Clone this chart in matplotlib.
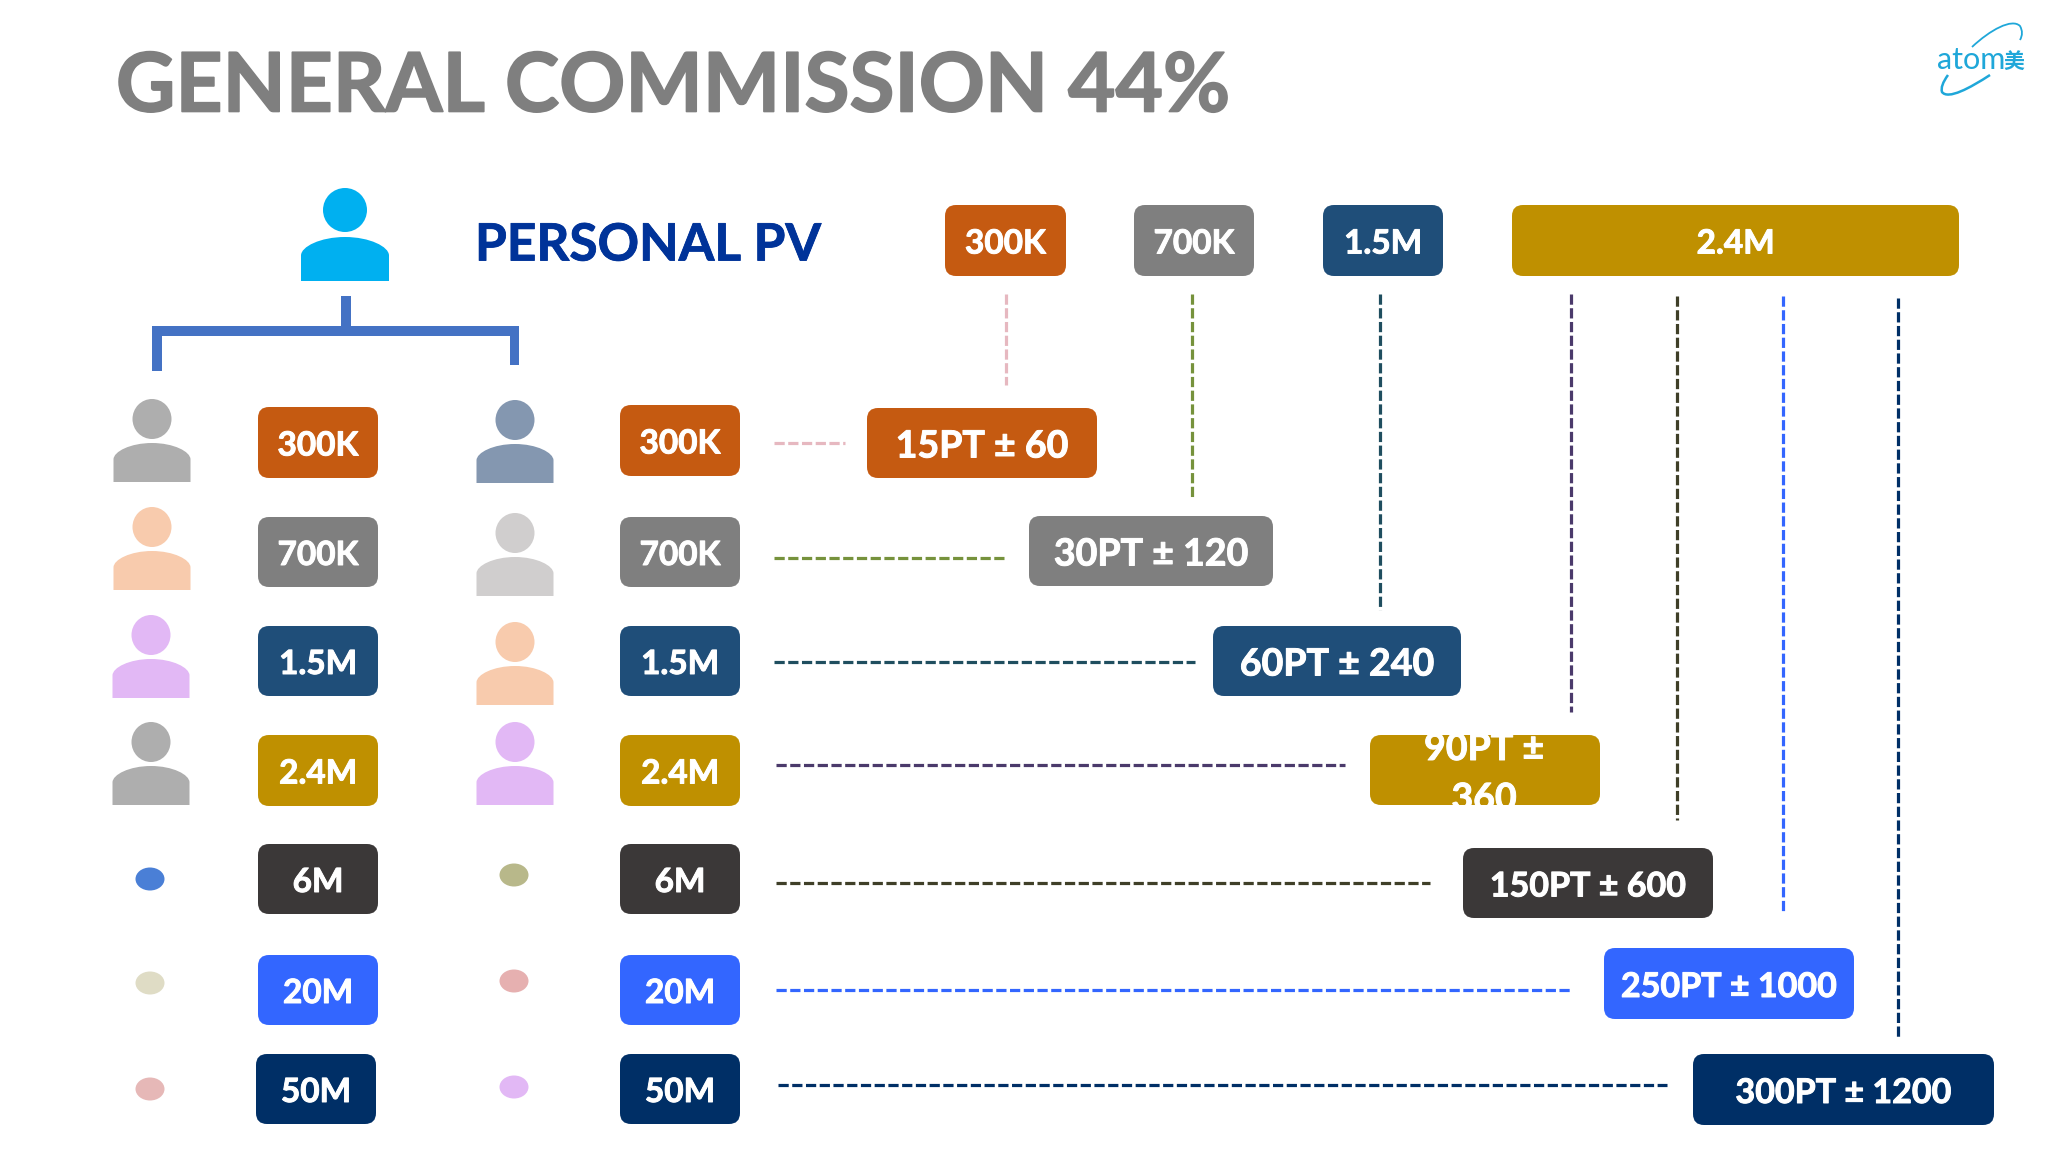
import matplotlib
matplotlib.use('Agg')
import matplotlib.pyplot as plt
import matplotlib.patheffects as pe
from matplotlib.patches import Ellipse, FancyBboxPatch, PathPatch, Rectangle
from matplotlib.path import Path

plt.rcParams['font.family'] = ['Lato', 'DejaVu Sans']

# chart content
title = 'GENERAL COMMISSION 44%'
subtitle = 'PERSONAL PV'
pv_labels = ['300K', '700K', '1.5M', '2.4M', '6M', '20M', '50M']
pv_colors = ['#c55a11', '#7f7f7f', '#1f4e79', '#bf9000', '#3b3838', '#3366ff', '#002f66']
pt_labels = ['15PT ± 60', '30PT ± 120', '60PT ± 240', '90PT ±\n360',
             '150PT ± 600', '250PT ± 1000', '300PT ± 1200']
line_colors = ['#e6b8c0', '#76923c', '#1f4e5f', '#4b3a6b', '#3f3f28', '#3366ff', '#002f66']

# layout, in pixels of the 2048x1152 picture
row_y_left = [(407, 478), (517, 587), (626, 696), (735, 806), (844, 914), (955, 1025), (1054, 1124)]
row_y_right = [(405, 476), (517, 587), (626, 696), (735, 806), (844, 914), (955, 1025), (1054, 1124)]
left_x = [(258, 378)] * 6 + [(256, 376)]
right_x = (620, 740)
top_badges = [(945, 1066), (1134, 1254), (1323, 1443), (1512, 1959)]
top_y = (205, 276)
pt_boxes = [(867, 1097, 408, 478), (1029, 1273, 516, 586), (1213, 1461, 626, 696),
            (1370, 1600, 735, 805), (1463, 1713, 848, 918), (1604, 1854, 948, 1019),
            (1693, 1994, 1054, 1125)]
pt_sizes = [27, 27, 27, 27, 24.5, 24.5, 24.5]
h_lines = [(774, 845, 443), (774, 1006, 558), (774, 1195, 662), (776, 1345, 765),
           (776, 1430, 883), (776, 1571, 990), (778, 1667, 1085)]
v_lines = [(1006, 294, 385, 0), (1192, 294, 499, 1), (1380, 294, 610, 2), (1571, 294, 712, 3),
           (1677, 296, 820, 4), (1783, 296, 913, 5), (1898, 298, 1039, 6)]
people = [(152, 399, '#aeaeae'), (515, 400, '#8497b0'),
          (152, 507, '#f8cbad'), (515, 513, '#d0cece'),
          (151, 615, '#e2b8f5'), (515, 622, '#f8cbad'),
          (151, 722, '#aeaeae'), (515, 722, '#e2b8f5')]
dots = [(150, 879, '#4a7fd6'), (514, 875, '#b8b88a'),
        (150, 983, '#dfdcc5'), (514, 981, '#e6b0b0'),
        (150, 1089, '#e6b8b7'), (514, 1087, '#e2b8f5')]

thick = [pe.withStroke(linewidth=0.7, foreground='white')]


def box(x0, x1, y0, y1, color):
    p = FancyBboxPatch((x0, y0), x1 - x0, y1 - y0, boxstyle='round,pad=0,rounding_size=11',
                       fc=color, ec='none', zorder=3)
    ax.add_patch(p)
    return p


def label(x0, x1, y0, y1, s, size=24):
    return ax.text((x0 + x1) / 2, (y0 + y1) / 2 + 3.5, s, color='white', fontsize=size, weight='bold',
                   ha='center', va='center', zorder=4, path_effects=thick)


def person(cx, top, color, w=77, h=39, hw=39, hh=40, gap=4):
    ax.add_patch(Ellipse((cx, top + hh / 2), hw, hh, fc=color, ec='none'))
    y0 = top + hh + gap
    y1 = y0 + h
    x0 = cx - w / 2
    x1 = cx + w / 2
    codes = [Path.MOVETO, Path.LINETO, Path.CURVE4, Path.CURVE4, Path.CURVE4,
             Path.CURVE4, Path.CURVE4, Path.CURVE4, Path.LINETO, Path.CLOSEPOLY]
    verts = [(x0, y1), (x0, y0 + h * 0.42),
             (x0, y0 + h * 0.22), (cx - w * 0.28, y0), (cx, y0),
             (cx + w * 0.28, y0), (x1, y0 + h * 0.22), (x1, y0 + h * 0.42),
             (x1, y1), (x0, y1)]
    ax.add_patch(PathPatch(Path(verts, codes), fc=color, ec='none'))


def dashed(xs, ys, color):
    ax.plot(xs, ys, color=color, lw=2.3, dashes=(3.2, 1.1), solid_capstyle='butt',
            dash_capstyle='butt', zorder=2)


fig = plt.figure(figsize=(20.48, 11.52), dpi=100)
ax = fig.add_axes([0, 0, 1, 1])
ax.set_xlim(0, 2048)
ax.set_ylim(1152, 0)
ax.axis('off')

ax.text(116, 88, title, color='#7f7f7f', fontsize=59, weight='bold', ha='left', va='center',
        path_effects=[pe.withStroke(linewidth=1.2, foreground='#7f7f7f')])
ax.text(475, 246, subtitle, color='#003399', fontsize=37, weight='bold', ha='left', va='center',
        path_effects=[pe.withStroke(linewidth=0.6, foreground='#003399')])

# top person and the connector
person(345, 188, '#00b0f0', w=88, h=44, hw=44, hh=44, gap=5)
for x, y, w, h in [(341, 296, 10, 32), (152, 326, 367, 10), (152, 326, 10, 45), (510, 326, 9, 39)]:
    ax.add_patch(Rectangle((x, y), w, h, fc='#4472c4', ec='none'))

# top badges
for i, (x0, x1) in enumerate(top_badges):
    box(x0, x1, top_y[0], top_y[1], pv_colors[i])
    label(x0, x1, top_y[0], top_y[1], pv_labels[i])

for cx, top, c in people:
    person(cx, top, c)
for cx, cy, c in dots:
    ax.add_patch(Ellipse((cx, cy), 29, 23, fc=c, ec='none'))

# the two columns of PV badges
for i, s in enumerate(pv_labels):
    box(left_x[i][0], left_x[i][1], row_y_left[i][0], row_y_left[i][1], pv_colors[i])
    label(left_x[i][0], left_x[i][1], row_y_left[i][0], row_y_left[i][1], s)
    box(right_x[0], right_x[1], row_y_right[i][0], row_y_right[i][1], pv_colors[i])
    label(right_x[0], right_x[1], row_y_right[i][0], row_y_right[i][1], s)

# dashed guides
for i, (x0, x1, y) in enumerate(h_lines):
    dashed([x0, x1], [y, y], line_colors[i])
for x, y0, y1, i in v_lines:
    dashed([x, x], [y0, y1], line_colors[i])

# point boxes, the 90PT text does not fit and is cut by its box
for i, (x0, x1, y0, y1) in enumerate(pt_boxes):
    p = box(x0, x1, y0, y1, pv_colors[i])
    if '\n' in pt_labels[i]:
        top_s, bot_s = pt_labels[i].split('\n')
        for s, yc in [(top_s, 749), (bot_s, 799)]:
            t = ax.text((x0 + x1) / 2 - 1, yc, s, color='white', fontsize=pt_sizes[i], weight='bold',
                        ha='center', va='center', zorder=4, path_effects=thick)
            t.set_clip_path(p)
    else:
        label(x0, x1, y0, y1, pt_labels[i], pt_sizes[i])

# logo
logo = '#1fa7d9'
ax.text(1971, 60, 'atom', color=logo, fontsize=22, ha='center', va='center')
ax.text(2014, 61, '美', color=logo, fontsize=15, ha='center', va='center', weight='bold',
        family=['Noto Sans CJK SC', 'DejaVu Sans'])
swoosh_top = Path([(1972, 47), (1990, 30), (2012, 18), (2020, 26), (2024, 33), (2020, 40)],
                  [Path.MOVETO, Path.CURVE4, Path.CURVE4, Path.CURVE4, Path.CURVE3, Path.CURVE3])
swoosh_low = Path([(1990, 75), (1970, 88), (1948, 100), (1942, 92), (1940, 86), (1948, 75)],
                  [Path.MOVETO, Path.CURVE4, Path.CURVE4, Path.CURVE4, Path.CURVE3, Path.CURVE3])
ax.add_patch(PathPatch(swoosh_top, fc='none', ec=logo, lw=1.3))
ax.add_patch(PathPatch(swoosh_low, fc='none', ec=logo, lw=1.8))

fig.savefig('out.png', dpi=100)
